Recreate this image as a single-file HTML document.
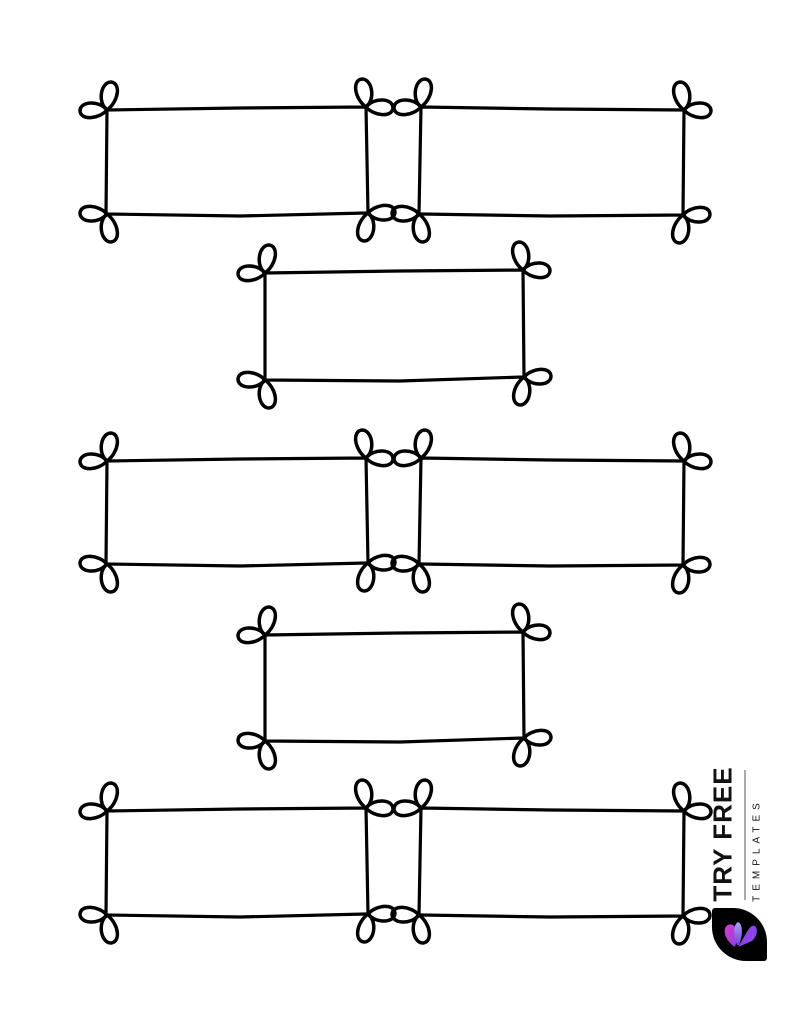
<!DOCTYPE html>
<html><head><meta charset="utf-8"><style>
html,body{margin:0;padding:0;background:#fff;width:791px;height:1024px;overflow:hidden;position:relative}
svg{position:absolute;left:0;top:0}
.leaf{position:absolute;left:712px;top:908px;width:55px;height:53px;background:#000;border-radius:3px 34px 3px 34px}
.t1{position:absolute;left:723px;top:834px;transform:translate(-50%,-50%) rotate(-90deg);font:bold 26px "Liberation Sans",sans-serif;letter-spacing:1px;white-space:nowrap;color:#111}
.t2{position:absolute;left:757px;top:850px;transform:translate(-50%,-50%) rotate(-90deg);font:10px "Liberation Sans",sans-serif;letter-spacing:5px;white-space:nowrap;color:#111}
</style></head><body>
<svg width="791" height="1024" viewBox="0 0 791 1024">
<defs>
<g id="c" fill="none" stroke="#000" stroke-width="3.5">
<path d="M0 0 C-10 -8 -6 -28 4 -28 C14 -27 12 -9 0 0 Z"/>
<path d="M0 0 C-8 -10 -27 -9 -27 1 C-26 11 -8 9 0 0 Z"/>
</g>
</defs>
<g fill="none" stroke="#000" stroke-width="3.2" stroke-linecap="round">
<path d="M107 110 L240 108 L366 107 M107 214 L240 216 L366 213 M107 110 L106 214 M366 107 L368 213"/>
<path d="M421 107 L550 109 L684 110 M421 214 L550 216 L684 215 M421 107 L419 214 M684 110 L683 215"/>
<path d="M265 273 L400 271 L523 270 M265 380 L400 381 L523 377 M265 273 L265 380 M523 270 L524 377"/>
<path d="M107 461 L240 459 L366 458 M107 564 L240 566 L366 563 M107 461 L106 564 M366 458 L368 563"/>
<path d="M421 458 L550 460 L684 461 M421 564 L550 566 L684 565 M421 458 L419 564 M684 461 L683 565"/>
<path d="M265 635 L400 633 L523 632 M265 741 L400 742 L523 738 M265 635 L265 741 M523 632 L524 738"/>
<path d="M107 811 L240 809 L366 808 M107 915 L240 917 L366 914 M107 811 L106 915 M366 808 L368 914"/>
<path d="M421 808 L550 810 L684 811 M421 915 L550 917 L684 916 M421 808 L419 915 M684 811 L683 916"/>
</g>
<g>
<use href="#c" transform="translate(107,110)"/><use href="#c" transform="translate(366,107) scale(-1,1)"/>
<use href="#c" transform="translate(107,214) scale(1,-1)"/><use href="#c" transform="translate(368,213) scale(-1,-1)"/>
<use href="#c" transform="translate(421,107)"/><use href="#c" transform="translate(684,110) scale(-1,1)"/>
<use href="#c" transform="translate(419,214) scale(1,-1)"/><use href="#c" transform="translate(683,215) scale(-1,-1)"/>

<use href="#c" transform="translate(265,273)"/><use href="#c" transform="translate(523,270) scale(-1,1)"/>
<use href="#c" transform="translate(265,380) scale(1,-1)"/><use href="#c" transform="translate(524,377) scale(-1,-1)"/>

<use href="#c" transform="translate(107,461)"/><use href="#c" transform="translate(366,458) scale(-1,1)"/>
<use href="#c" transform="translate(107,564) scale(1,-1)"/><use href="#c" transform="translate(368,563) scale(-1,-1)"/>
<use href="#c" transform="translate(421,458)"/><use href="#c" transform="translate(684,461) scale(-1,1)"/>
<use href="#c" transform="translate(419,564) scale(1,-1)"/><use href="#c" transform="translate(683,565) scale(-1,-1)"/>

<use href="#c" transform="translate(265,635)"/><use href="#c" transform="translate(523,632) scale(-1,1)"/>
<use href="#c" transform="translate(265,741) scale(1,-1)"/><use href="#c" transform="translate(524,738) scale(-1,-1)"/>

<use href="#c" transform="translate(107,811)"/><use href="#c" transform="translate(366,808) scale(-1,1)"/>
<use href="#c" transform="translate(107,915) scale(1,-1)"/><use href="#c" transform="translate(368,914) scale(-1,-1)"/>
<use href="#c" transform="translate(421,808)"/><use href="#c" transform="translate(684,811) scale(-1,1)"/>
<use href="#c" transform="translate(419,915) scale(1,-1)"/><use href="#c" transform="translate(683,916) scale(-1,-1)"/>
</g>
<line x1="745" y1="770" x2="745" y2="900" stroke="#555" stroke-width="1"/>
</svg>
<div class="leaf"></div>
<svg width="791" height="1024" viewBox="0 0 791 1024">
<defs><linearGradient id="g1" x1="0" y1="0" x2="1" y2="1"><stop offset="0" stop-color="#d63fd0"/><stop offset="1" stop-color="#8a3ee0"/></linearGradient>
<linearGradient id="g2" x1="0" y1="0" x2="0" y2="1"><stop offset="0" stop-color="#a9a6ee"/><stop offset="1" stop-color="#7a3de0"/></linearGradient></defs>
<path d="M735 947 C724 940 722 928 728 925 C734 922 738 930 738 936 Z" fill="url(#g1)"/>
<path d="M738 947 C744 938 748 928 752 926 C758 924 759 935 752 941 Z" fill="#8b45e6"/>
<path d="M737 945 C733 935 733 925 738 922 C743 924 743 935 739 945 Z" fill="url(#g2)"/>
</svg>
<div class="t1">TRY FREE</div>
<div class="t2">TEMPLATES</div>
</body></html>
